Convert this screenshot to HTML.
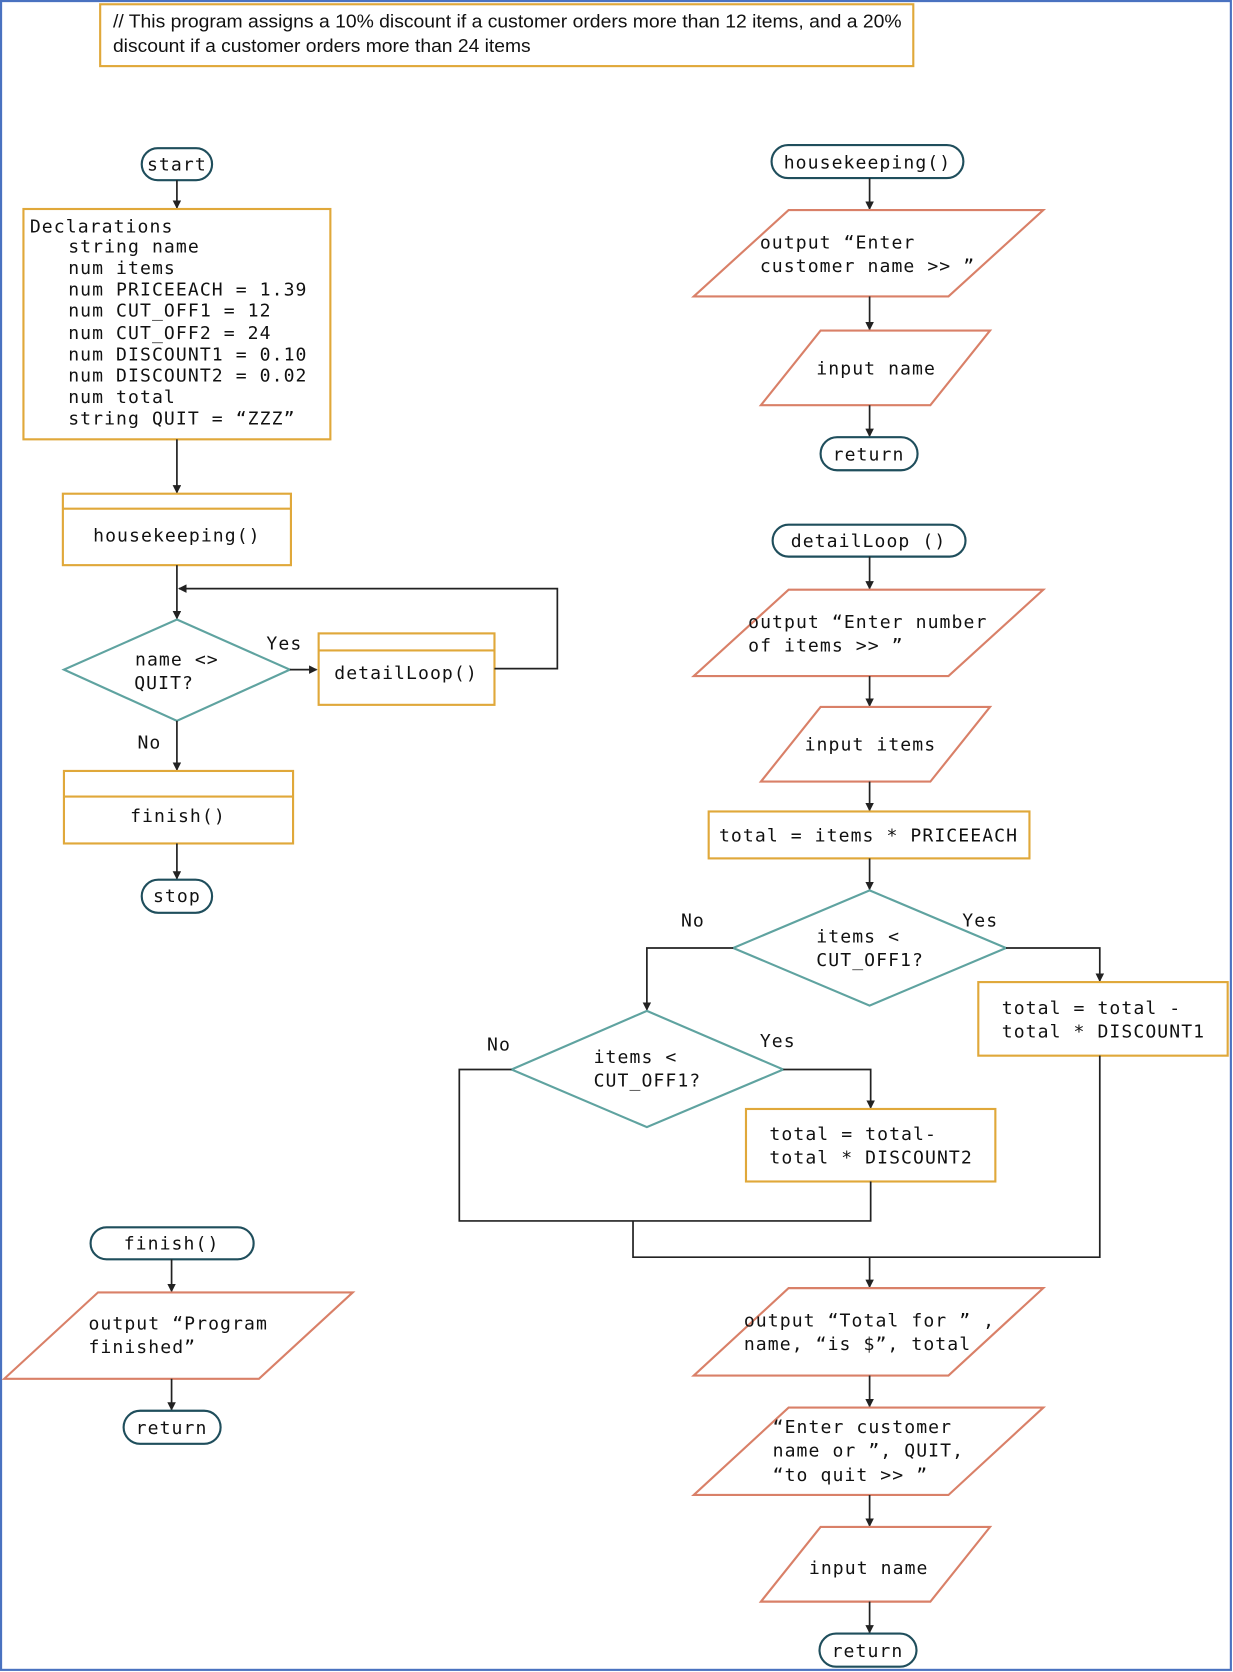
<!DOCTYPE html>
<html><head><meta charset="utf-8"><style>
html,body{margin:0;padding:0;background:#fff;width:1233px;height:1672px;overflow:hidden}
svg{display:block}
.m{font-family:"DejaVu Sans Mono","Liberation Mono",monospace;font-size:17px;letter-spacing:1px;fill:#111}
.s{font-family:"Liberation Sans",sans-serif;font-size:17px;fill:#111}
.o{fill:#fff;stroke:#e0a83a;stroke-width:2}
.t{fill:#fff;stroke:#1f4e5c;stroke-width:2}
.d{fill:#fff;stroke:#5fa3a0;stroke-width:2}
.p{fill:#fff;stroke:#d98068;stroke-width:2}
.l{fill:none;stroke:#222;stroke-width:1.6}
</style></head><body>
<svg width="1233" height="1672" viewBox="0 0 1157 1568" preserveAspectRatio="none">
<defs><marker id="a" markerWidth="8" markerHeight="8" refX="7" refY="4" orient="auto" markerUnits="userSpaceOnUse"><path d="M0,0 L8,4 L0,8 z" fill="#222"/></marker></defs>
<rect x="1" y="1" width="1154" height="1565" fill="none" stroke="#4a72c0" stroke-width="2"/>
<rect class="o" x="94" y="4" width="763" height="58"/>
<text class="s" x="106" y="26" textLength="740" lengthAdjust="spacingAndGlyphs">// This program assigns a 10% discount if a customer orders more than 12 items, and a 20%</text>
<text class="s" x="106" y="49" textLength="392" lengthAdjust="spacingAndGlyphs">discount if a customer orders more than 24 items</text>

<rect class="t" x="133" y="139" width="66" height="30" rx="15"/>
<text class="m" x="166" y="160" text-anchor="middle">start</text>
<line class="l" x1="166" y1="169" x2="166" y2="195" marker-end="url(#a)"/>
<rect class="o" x="22" y="196" width="288" height="216"/>
<g class="m">
<text x="28" y="218">Declarations</text>
<text x="64" y="237">string name</text>
<text x="64" y="257">num items</text>
<text x="64" y="277">num PRICEEACH = 1.39</text>
<text x="64" y="297">num CUT_OFF1 = 12</text>
<text x="64" y="318">num CUT_OFF2 = 24</text>
<text x="64" y="338">num DISCOUNT1 = 0.10</text>
<text x="64" y="358">num DISCOUNT2 = 0.02</text>
<text x="64" y="378">num total</text>
<text x="64" y="398">string QUIT = “ZZZ”</text>
</g>
<line class="l" x1="166" y1="412" x2="166" y2="462" marker-end="url(#a)"/>
<rect class="o" x="59" y="463" width="214" height="67"/><line class="o" x1="59" y1="477" x2="273" y2="477"/>
<text class="m" x="166" y="508" text-anchor="middle">housekeeping()</text>
<line class="l" x1="166" y1="530" x2="166" y2="580" marker-end="url(#a)"/>
<polygon class="d" points="166,581 272,628 166,676 60,628"/>
<text class="m" x="166" y="624" text-anchor="middle">name &lt;&gt;</text>
<text class="m" x="154" y="646" text-anchor="middle">QUIT?</text>
<text class="m" x="250" y="609">Yes</text>
<line class="l" x1="272" y1="628" x2="297" y2="628" marker-end="url(#a)"/>
<rect class="o" x="299" y="594" width="165" height="67"/><line class="o" x1="299" y1="610" x2="464" y2="610"/>
<text class="m" x="381" y="637" text-anchor="middle">detailLoop()</text>
<polyline class="l" points="464,627 523,627 523,552 168,552" marker-end="url(#a)"/>
<text class="m" x="129" y="702">No</text>
<line class="l" x1="166" y1="676" x2="166" y2="722" marker-end="url(#a)"/>
<rect class="o" x="60" y="723" width="215" height="68"/><line class="o" x1="60" y1="747" x2="275" y2="747"/>
<text class="m" x="167" y="771" text-anchor="middle">finish()</text>
<line class="l" x1="166" y1="791" x2="166" y2="824" marker-end="url(#a)"/>
<rect class="t" x="133" y="825" width="66" height="31" rx="15.5"/>
<text class="m" x="166" y="846" text-anchor="middle">stop</text>

<rect class="t" x="85" y="1151" width="153" height="30" rx="15"/>
<text class="m" x="161" y="1172" text-anchor="middle">finish()</text>
<line class="l" x1="161" y1="1181" x2="161" y2="1211" marker-end="url(#a)"/>
<polygon class="p" points="92,1212 331,1212 243,1293 4,1293"/>
<text class="m" x="83" y="1247">output “Program</text>
<text class="m" x="83" y="1269">finished”</text>
<line class="l" x1="161" y1="1293" x2="161" y2="1322" marker-end="url(#a)"/>
<rect class="t" x="116" y="1323" width="91" height="31" rx="15.5"/>
<text class="m" x="161" y="1345" text-anchor="middle">return</text>

<rect class="t" x="724" y="136" width="180" height="31" rx="15.5"/>
<text class="m" x="814" y="158" text-anchor="middle">housekeeping()</text>
<line class="l" x1="816" y1="167" x2="816" y2="196" marker-end="url(#a)"/>
<polygon class="p" points="740,197 979,197 890,278 651,278"/>
<text class="m" x="713" y="233">output “Enter</text>
<text class="m" x="713" y="255">customer name &gt;&gt; ”</text>
<line class="l" x1="816" y1="278" x2="816" y2="309" marker-end="url(#a)"/>
<polygon class="p" points="770,310 929,310 873,380 714,380"/>
<text class="m" x="766" y="351">input name</text>
<line class="l" x1="816" y1="380" x2="816" y2="409" marker-end="url(#a)"/>
<rect class="t" x="770" y="410" width="91" height="31" rx="15.5"/>
<text class="m" x="815" y="432" text-anchor="middle">return</text>

<rect class="t" x="725" y="492" width="181" height="30" rx="15"/>
<text class="m" x="815" y="513" text-anchor="middle">detailLoop ()</text>
<line class="l" x1="816" y1="522" x2="816" y2="552" marker-end="url(#a)"/>
<polygon class="p" points="740,553 979,553 890,634 651,634"/>
<text class="m" x="702" y="589">output “Enter number</text>
<text class="m" x="702" y="611">of items &gt;&gt; ”</text>
<line class="l" x1="816" y1="634" x2="816" y2="662" marker-end="url(#a)"/>
<polygon class="p" points="770,663 929,663 873,733 714,733"/>
<text class="m" x="755" y="704">input items</text>
<line class="l" x1="816" y1="733" x2="816" y2="760" marker-end="url(#a)"/>
<rect class="o" x="665" y="761" width="301" height="44"/>
<text class="m" x="815" y="789" text-anchor="middle">total = items * PRICEEACH</text>
<line class="l" x1="816" y1="805" x2="816" y2="834" marker-end="url(#a)"/>
<polygon class="d" points="816,835 944,889 816,943 688,889"/>
<text class="m" x="766" y="884">items &lt;</text>
<text class="m" x="766" y="906">CUT_OFF1?</text>
<text class="m" x="639" y="869">No</text>
<text class="m" x="903" y="869">Yes</text>
<polyline class="l" points="944,889 1032,889 1032,920" marker-end="url(#a)"/>
<rect class="o" x="918" y="921" width="234" height="69"/>
<text class="m" x="940" y="951">total = total -</text>
<text class="m" x="940" y="973">total * DISCOUNT1</text>
<polyline class="l" points="688,889 607,889 607,947" marker-end="url(#a)"/>
<polygon class="d" points="607,948 735,1003 607,1057 480,1003"/>
<text class="m" x="557" y="997">items &lt;</text>
<text class="m" x="557" y="1019">CUT_OFF1?</text>
<text class="m" x="457" y="985">No</text>
<text class="m" x="713" y="982">Yes</text>
<polyline class="l" points="735,1003 817,1003 817,1039" marker-end="url(#a)"/>
<rect class="o" x="700" y="1040" width="234" height="68"/>
<text class="m" x="722" y="1069">total = total-</text>
<text class="m" x="722" y="1091">total * DISCOUNT2</text>
<polyline class="l" points="480,1003 431,1003 431,1145 817,1145 817,1108"/>
<polyline class="l" points="594,1145 594,1179 1032,1179 1032,990"/>
<line class="l" x1="816" y1="1179" x2="816" y2="1207" marker-end="url(#a)"/>
<polygon class="p" points="740,1208 979,1208 890,1290 651,1290"/>
<text class="m" x="698" y="1244">output “Total for ” ,</text>
<text class="m" x="698" y="1266">name, “is $”, total</text>
<line class="l" x1="816" y1="1290" x2="816" y2="1319" marker-end="url(#a)"/>
<polygon class="p" points="740,1320 979,1320 890,1402 651,1402"/>
<text class="m" x="725" y="1344">“Enter customer</text>
<text class="m" x="725" y="1366">name or ”, QUIT,</text>
<text class="m" x="725" y="1389">“to quit &gt;&gt; ”</text>
<line class="l" x1="816" y1="1402" x2="816" y2="1431" marker-end="url(#a)"/>
<polygon class="p" points="770,1432 929,1432 873,1502 714,1502"/>
<text class="m" x="759" y="1476">input name</text>
<line class="l" x1="816" y1="1502" x2="816" y2="1531" marker-end="url(#a)"/>
<rect class="t" x="769" y="1532" width="91" height="31" rx="15.5"/>
<text class="m" x="814" y="1554" text-anchor="middle">return</text>
</svg>
</body></html>
